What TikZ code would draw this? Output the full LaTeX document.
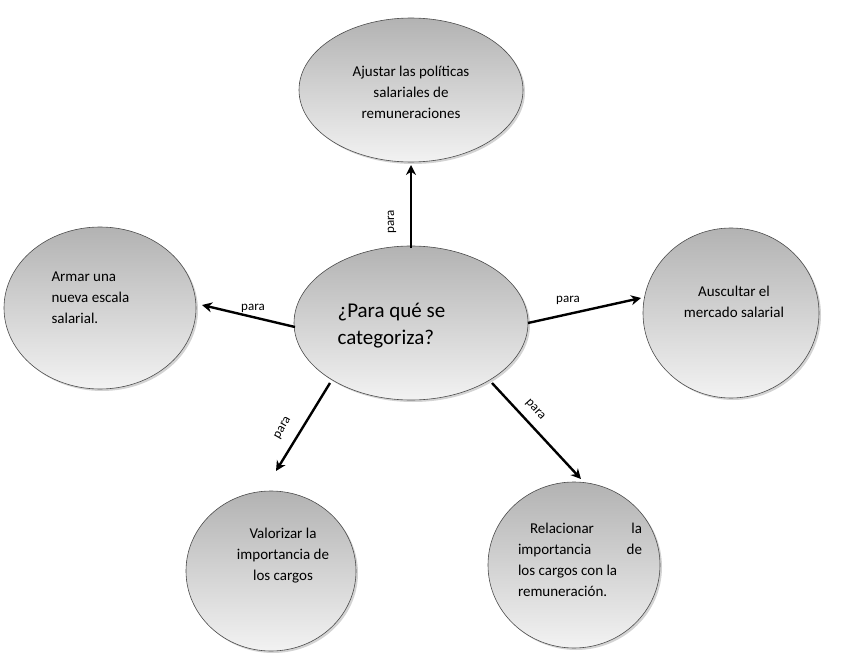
\documentclass[tikz,border=0pt]{standalone}
\usepackage{fontspec}
\setmainfont{Carlito}
\usetikzlibrary{shadows,arrows.meta,shapes.geometric}
\begin{document}
\begin{tikzpicture}[x=1pt,y=-1pt,
  bub/.style={ellipse,draw=black!70,line width=0.6pt,top color=gray!60,bottom color=gray!10,drop shadow={opacity=0.35,shadow xshift=2pt,shadow yshift=-2pt},inner sep=0pt},
  txt/.style={font=\fontsize{15}{21}\selectfont,align=center},
  arr/.style={line width=2.4pt,-{Stealth[length=10pt,width=10pt]}},
  lab/.style={font=\fontsize{13}{15}\selectfont,inner sep=1pt}]
\useasboundingbox (0,0) rectangle (844,658);
\node[bub,minimum width=224pt,minimum height=144pt] (t) at (411,90) {};
\node[bub,minimum width=234pt,minimum height=154pt] (c) at (411,323) {};
\node[bub,minimum width=192pt,minimum height=162pt] (l) at (100,308) {};
\node[bub,minimum width=176pt,minimum height=170pt] (r) at (731,313) {};
\node[bub,minimum width=170pt,minimum height=160pt] (bl) at (271,571) {};
\node[bub,minimum width=172pt,minimum height=166pt] (br) at (574,565) {};
\node[txt] at (411,92) {Ajustar las políticas\\salariales de\\remuneraciones};
\node[font=\fontsize{21}{27}\selectfont,align=left,anchor=west] at (334,326) {¿Para qué se\\categoriza?};
\node[txt,align=left,anchor=west] at (48,298) {Armar una\\nueva escala\\salarial.};
\node[txt] at (734,302) {Auscultar el\\mercado salarial};
\node[txt] at (283,556) {Valorizar la\\importancia de\\los cargos};
\node[txt,align=justify,text width=124pt] at (580,560) {\hspace*{12pt}Relacionar\hfill la\\importancia\hfill de\\los cargos con la\\remuneración.};
\draw[arr] (411,248) -- (411,165);
\draw[arr] (295,327) -- (202,305);
\draw[arr] (528,323) -- (641,298);
\draw[arr] (330,383) -- (276,471);
\draw[arr] (492,383) -- (581,479);
\node[lab,rotate=90] at (392,222) {para};
\node[lab] at (253,308) {para};
\node[lab] at (568,300) {para};
\node[lab,rotate=60] at (283,428) {para};
\node[lab,rotate=-48] at (535,410) {para};
\end{tikzpicture}
\end{document}
